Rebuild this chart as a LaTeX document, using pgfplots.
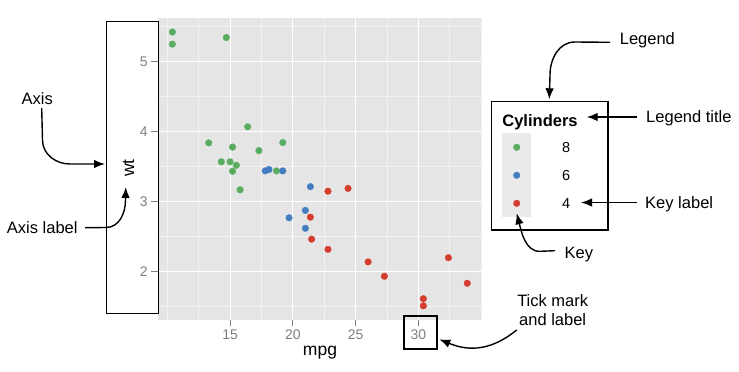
\documentclass[border=0pt]{standalone}
\usepackage{fontspec}
\setmainfont{Liberation Sans}
\usepackage{pgfplots}
\pgfplotsset{compat=1.18}
\usetikzlibrary{arrows.meta}
\definecolor{panelgrey}{HTML}{E5E5E5}
\definecolor{minorgrid}{HTML}{F2F2F2}
\definecolor{ticklab}{HTML}{7F7F7F}
\definecolor{cylA}{RGB}{90,173,96}
\definecolor{cylB}{RGB}{68,126,192}
\definecolor{cylC}{RGB}{213,62,46}
\newcommand{\annot}{\fontsize{16.5}{19}\selectfont}
\begin{document}
\begin{tikzpicture}
\begin{scope}[x=1pt,y=-1pt]
\useasboundingbox (0,0) rectangle (739,372);
% key background
\fill[panelgrey!80!white] (502.3,132.7) rectangle (530.7,217.3);
\end{scope}
\begin{axis}[
  at={(157.6pt,-319.5pt)}, anchor=south west,
  scale only axis, width=324.4pt, height=301.2pt,
  xmin=9.225, xmax=35.075, ymin=1.3175, ymax=5.6195,
  axis background/.style={fill=panelgrey},
  axis line style={draw=none},
  xtick={15,20,25,30}, ytick={2,3,4,5},
  minor xtick={10,12.5,17.5,22.5,27.5,32.5,35},
  minor ytick={1.5,2.5,3.5,4.5,5.5},
  grid=both,
  major grid style={white, line width=1.1pt},
  minor grid style={minorgrid, line width=0.6pt},
  tick align=outside, xtick pos=bottom, ytick pos=left,
  major tick length=6.5pt, minor tick length=0pt,
  tick style={ticklab, line width=0.7pt},
  /pgf/number format/assume math mode=true,
  ticklabel style={font=\fontsize{14}{14}\selectfont, text=ticklab},
  xlabel={mpg}, ylabel={wt},
  label style={font=\fontsize{17.5}{17.5}\selectfont},
  xlabel style={at={(axis description cs:0.5006,-0.1179)}, anchor=base},
  ylabel style={at={(axis description cs:-0.0727,0.503)}, anchor=base},
  legend style={draw=none, fill=none, inner sep=0pt, outer sep=0pt,
    at={(axis description cs:1.0823,0.5890)}, anchor=north west,
    row sep=17.6pt, font=\fontsize{14.5}{14.5}\selectfont,
    nodes={inner sep=0pt, text height=10.4pt, text depth=0pt},
    /tikz/every odd column/.style={column sep=37.5pt}},
  legend cell align=left,
  legend image code/.code={\path[draw=none,fill=none] (-8pt,-5.2pt) rectangle (8pt,5.2pt);
    \draw[#1] plot coordinates {(0pt,0pt)};},
]
\addplot[only marks, mark=*, mark size=3.3pt, color=cylA] coordinates {
(18.7,3.440) (14.3,3.570) (16.4,4.070) (17.3,3.730) (15.2,3.780)
(10.4,5.250) (10.4,5.424) (14.7,5.345) (15.5,3.520) (15.2,3.435)
(13.3,3.840) (19.2,3.845) (15.8,3.170) (15.0,3.570)};
\addlegendentry{8}
\addplot[only marks, mark=*, mark size=3.3pt, color=cylB] coordinates {
(21.0,2.620) (21.0,2.875) (21.4,3.215) (18.1,3.460) (19.2,3.440)
(17.8,3.440) (19.7,2.770)};
\addlegendentry{6}
\addplot[only marks, mark=*, mark size=3.3pt, color=cylC] coordinates {
(22.8,2.320) (24.4,3.190) (22.8,3.150) (32.4,2.200) (30.4,1.615)
(33.9,1.835) (21.5,2.465) (27.3,1.935) (26.0,2.140) (30.4,1.513)
(21.4,2.780)};
\addlegendentry{4}
\end{axis}
\begin{scope}[x=1pt,y=-1pt, line width=1.4pt,
  arr/.style={-{Latex[length=11pt,width=8.5pt]}}]
\draw (106.7,21.5) rectangle (158.3,313.3);
\draw (404,316) rectangle (437,349);
\draw (491.7,101.7) rectangle (608,230);
\node[font=\bfseries\annot, anchor=base] at (540,126.7) {Cylinders};
\node[font=\annot, anchor=base] at (37.2,104) {Axis};
\node[font=\annot, anchor=base] at (42.3,233.3) {Axis label};
\node[font=\annot, anchor=base west] at (615.8,44.3) {Legend};
\node[font=\annot, anchor=base west] at (642.2,122.3) {Legend title};
\node[font=\annot, anchor=base west] at (641.2,208.3) {Key label};
\node[font=\annot, anchor=base west] at (560.7,258) {Key};
\node[font=\annot, anchor=base] at (552.7,306) {Tick mark};
\node[font=\annot, anchor=base] at (552.7,325) {and label};
\draw[arr] (41.7,108) -- (42.5,140) to[out=-90,in=180] (70,164) -- (105,164);
\draw[arr] (85,227.7) -- (106,227.5) to[out=0,in=-90] (125.5,200) -- (125.8,187);
\draw[arr] (516.7,330) .. controls (492,350) and (470,352) .. (439.3,339.3);
\draw[arr] (610,42.3) -- (575,42) to[out=180,in=90] (550,75) -- (549.3,99.3);
\draw[arr] (637,117) -- (586.7,117);
\draw[arr] (636.7,202.5) -- (581,202.5);
\draw[arr] (555,250.7) -- (540,251.3) .. controls (525,252) and (521,230) .. (516.7,213.3);
\end{scope}
\end{tikzpicture}
\end{document}
